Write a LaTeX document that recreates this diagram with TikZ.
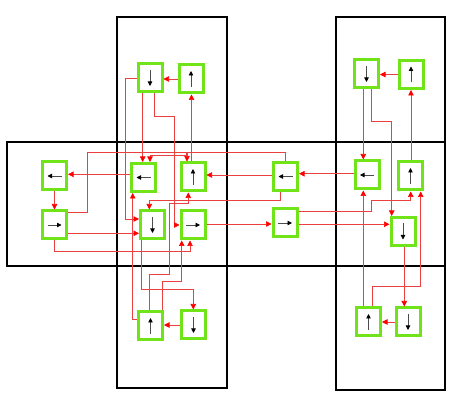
\documentclass[tikz,border=0pt]{standalone}
\usetikzlibrary{arrows.meta}
\definecolor{boxgreen}{RGB}{112,228,24}
\definecolor{linered}{RGB}{236,64,64}
\tikzset{
  frame/.style={draw=black, line width=2.4pt},
  box/.style={draw=boxgreen, line width=3pt, minimum width=24pt, minimum height=28pt, inner sep=0pt, fill=white},
  spin/.style={draw=black!70, line width=0.8pt, -{Triangle[length=4.5pt,width=4.5pt,color=black]}},
  spinup/.style={box, path picture={\draw[spin] ([yshift=-8pt]path picture bounding box.center) -- ([yshift=8pt]path picture bounding box.center);}},
  spindn/.style={box, path picture={\draw[spin] ([yshift=8pt]path picture bounding box.center) -- ([yshift=-8pt]path picture bounding box.center);}},
  spinlt/.style={box, path picture={\draw[spin] ([xshift=7pt]path picture bounding box.center) -- ([xshift=-7pt]path picture bounding box.center);}},
  spinrt/.style={box, path picture={\draw[spin] ([xshift=-7pt]path picture bounding box.center) -- ([xshift=7pt]path picture bounding box.center);}},
  conn/.style={draw=linered, line width=0.6pt, -{Triangle[length=5.5pt,width=5.5pt,color=red]}},
  plain/.style={draw=linered, line width=0.6pt}
}
\begin{document}
\begin{tikzpicture}[x=1pt,y=-1pt]
\useasboundingbox (0,0) rectangle (474,403);
% frames
\draw[frame] (117,17) rectangle (227,142);
\draw[frame] (7,142) rectangle (445,266);
\draw[frame] (117,142) -- (117,266);
\draw[frame] (227,142) -- (227,266);
\draw[frame] (336,142) -- (336,266);
\draw[frame] (117,266) rectangle (227,388);
\draw[frame] (336,17) rectangle (445,390);
% boxes
\node[spindn] (A) at (150,78) {};
\node[spinup] (B) at (191,79) {};
\node[spinlt] (L1) at (54.5,176) {};
\node[spinrt] (L2) at (54.5,225) {};
\node[spinlt] (C1) at (143.5,177.5) {};
\node[spinup] (C2) at (193,177) {};
\node[spindn] (C3) at (152.5,225) {};
\node[spinrt] (C4) at (193,225) {};
\node[spinup] (D1) at (150.5,326) {};
\node[spindn] (D2) at (193.5,325) {};
\node[spinlt] (M1) at (285.5,176.5) {};
\node[spinrt] (M2) at (285,223) {};
\node[spindn] (R1) at (366.5,74) {};
\node[spinup] (R2) at (411,74.5) {};
\node[spinlt] (R3) at (367,175) {};
\node[spinup] (R4) at (410.5,176) {};
\node[spindn] (R5) at (403,231.5) {};
\node[spinup] (R6) at (368.5,322) {};
\node[spindn] (R7) at (408,322) {};
% connectors
\draw[conn] (B.west) -- (B.west -| A.east);
\draw[conn] (A.west) -| (125.3,219) -- (C3.west |- 0,219);
\draw[conn] (142.7,0 |- A.south) -- (142.7,0 |- C1.north);
\draw[conn] (154.3,0 |- A.south) |- (174.3,116.3) |- (C4.west);
\draw[conn] (191.5,0 |- C2.north) -- (191.5,0 |- B.south);
\draw[conn] (L2.east |- 0,212.7) -| (87.7,152.3) -| (187,0 |- C2.north);
\draw[conn] (285,0 |- M1.north) |- (186.7,152.3) -- (186.7,155) -| (150,0 |- C1.north);
\draw[conn] (C1.west |- 0,174.3) -- (L1.east |- 0,174.3);
\draw[conn] (L1.south) -- (L2.north);
\draw[conn] (L2.east |- 0,233.3) -- (C3.west |- 0,233.3);
\draw[conn] (L2.south) |- (190,251.7) -- (190,0 |- C4.south);
\draw[conn] (162.3,0 |- D1.north) |- (181.7,281) -- (181.7,0 |- C4.south);
\draw[conn] (149.7,0 |- D1.north) |- (169,274) |- (188.3,203.3) -- (188.3,0 |- C2.south);
\draw[conn] (D1.west |- 0,319) -| (132.7,0 |- C1.south);
\draw[conn] (141.7,0 |- C3.south) |- (193.3,289) -- (193.3,0 |- D2.north);
\draw[conn] (D2.west) -- (D2.west -| D1.east);
\draw[conn] (280.7,0 |- M1.south) |- (149.3,200) -- (149.3,0 |- C3.north);
\draw[conn] (M1.west |- 0,175) -- (C2.east |- 0,175);
\draw[conn] (C4.east |- 0,224) -- (M2.west |- 0,224);
\draw[conn] (R3.west |- 0,173.7) -- (M1.east |- 0,173.7);
\draw[conn] (R2.west) -- (R2.west -| R1.east);
\draw[conn] (363.3,0 |- R1.south) -- (363.3,0 |- R3.north);
\draw[conn] (371.7,0 |- R1.south) |- (391.7,121.7) -- (391.7,0 |- R5.north);
\draw[conn] (411,0 |- R4.north) -- (411,0 |- R2.south);
\draw[conn] (363.3,0 |- R6.north) -- (363.3,0 |- R3.south);
\draw[conn] (M2.east |- 0,211) -| (371,200) -| (410.7,0 |- R4.south);
\draw[conn] (372.3,0 |- R6.north) |- (420.7,286.7) -- (420.7,0 |- R4.south);
\draw[conn] (M2.east |- 0,224.3) -- (R5.west |- 0,224.3);
\draw[conn] (404.3,0 |- R5.south) -- (404.3,0 |- R7.north);
\draw[conn] (R7.west) -- (R7.west -| R6.east);
\end{tikzpicture}
\end{document}
